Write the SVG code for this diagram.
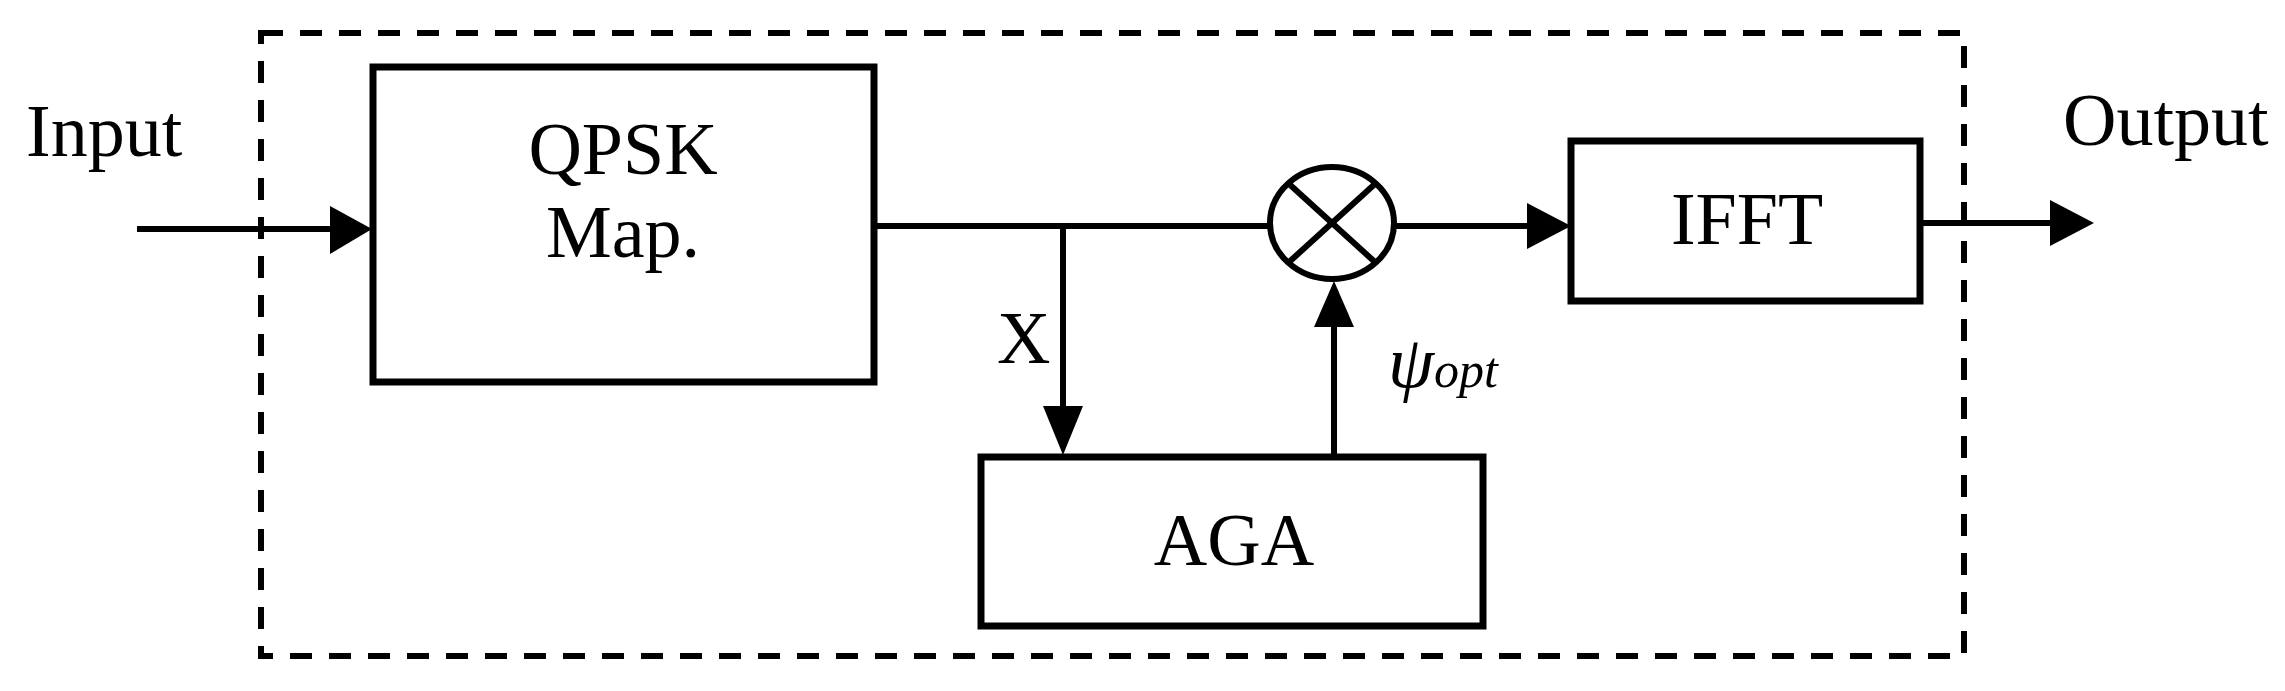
<svg xmlns="http://www.w3.org/2000/svg" width="2285" height="691" viewBox="0 0 2285 691">
<style>
.box{fill:#fff;stroke:#000;stroke-width:7}
.ln{fill:none;stroke:#000;stroke-width:6}
text{font-family:"Liberation Serif",serif;font-size:74px;fill:#000}
</style>
<rect width="2285" height="691" fill="#fff"/>
<rect x="261" y="33" width="1703" height="623" fill="none" stroke="#000" stroke-width="6" stroke-dasharray="22,17"/>
<g id="qpsk"><rect class="box" x="373" y="67" width="501" height="315"/><text x="623" y="174" text-anchor="middle">QPSK</text><text x="623" y="257" text-anchor="middle">Map.</text></g>
<g id="mult"><ellipse class="ln" cx="1332" cy="223" rx="62" ry="56"/><line class="ln" x1="1288" y1="183" x2="1376" y2="263"/><line class="ln" x1="1376" y1="183" x2="1288" y2="263"/></g>
<g id="ifft"><rect class="box" x="1571" y="141" width="349" height="160"/><text x="1747" y="244" text-anchor="middle">IFFT</text></g>
<g id="aga"><rect class="box" x="981" y="457" width="502" height="169"/><text x="1234" y="565" text-anchor="middle">AGA</text></g>
<g id="labels"><text x="26" y="156">Input</text><text x="2063" y="145">Output</text><text x="997" y="363">X</text><text x="1388" y="387" font-style="italic">ψ<tspan font-size="50">opt</tspan></text></g>
<g id="connectors">
<line class="ln" x1="137" y1="229" x2="335" y2="229"/><polygon points="330,206 372,229 330,254"/>
<line class="ln" x1="874" y1="226" x2="1270" y2="226"/>
<line class="ln" x1="1063" y1="226" x2="1063" y2="410"/><polygon points="1043,406 1083,406 1063,455"/>
<line class="ln" x1="1394" y1="226" x2="1530" y2="226"/><polygon points="1527,203 1571,226 1527,249"/>
<line class="ln" x1="1334" y1="457" x2="1334" y2="320"/><polygon points="1314,327 1354,327 1334,281"/>
<line class="ln" x1="1920" y1="223" x2="2055" y2="223"/><polygon points="2050,200 2094,223 2050,246"/>
</g>
</svg>
